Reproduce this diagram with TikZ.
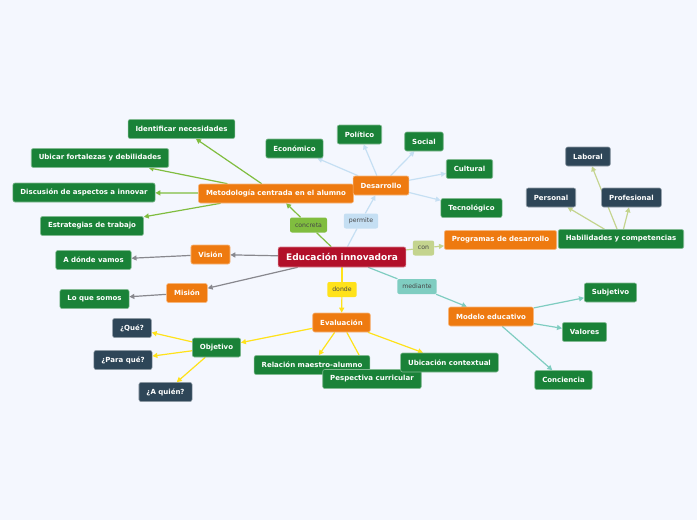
\documentclass[tikz,border=0pt]{standalone}
\usepackage{fontspec}
\setmainfont{DejaVu Sans}
\usetikzlibrary{arrows.meta,backgrounds}

\definecolor{bgcol}{RGB}{244,247,254}
\definecolor{rootred}{RGB}{178,16,42}
\definecolor{brorange}{RGB}{238,122,16}
\definecolor{topgreen}{RGB}{26,130,56}
\definecolor{leafdark}{RGB}{46,70,88}
\definecolor{lnkgray}{RGB}{136,136,142}
\definecolor{lnkgreen}{RGB}{128,189,63}
\definecolor{lnkblue}{RGB}{197,223,243}
\definecolor{lnkolive}{RGB}{196,212,142}
\definecolor{lnkyellow}{RGB}{255,226,26}
\definecolor{lnkteal}{RGB}{127,205,193}

\tikzset{
  box/.style={rounded corners=2pt, minimum height=19pt, inner xsep=7.5pt, inner ysep=1pt,
    text=white, font=\fontsize{7}{8}\selectfont\bfseries, line width=0.6pt},
  rootbox/.style={box, fill=rootred, draw=rootred!55!white, minimum height=20pt,
    inner xsep=8pt, font=\fontsize{9}{10}\selectfont\bfseries},
  branchbox/.style={box, fill=brorange, draw=brorange!55!white},
  topicbox/.style={box, fill=topgreen, draw=topgreen!55!white},
  leafbox/.style={box, fill=leafdark, draw=leafdark!55!white},
  tagbox/.style={rounded corners=2pt, minimum height=15pt, inner xsep=5pt, inner ysep=1pt,
    text=black!72, font=\fontsize{6.2}{7}\selectfont},
  link/.style={line width=1.2pt, -{Triangle[length=5pt,width=5pt]}},
  plain/.style={line width=1.2pt},
}

\begin{document}
\begin{tikzpicture}[x=1pt, y=-1pt]
\useasboundingbox (0,0) rectangle (697,520);

% centre
\node[rootbox] (root) at (342,257) {Educación innovadora};

% labels on the links
\node[tagbox, fill=lnkgreen] (concreta) at (308.5,225) {concreta};
\node[tagbox, fill=lnkblue] (permite) at (361,221) {permite};
\node[tagbox, fill=lnkolive] (con) at (423.5,248) {con};
\node[tagbox, fill=lnkyellow] (donde) at (342,289.5) {donde};
\node[tagbox, fill=lnkteal] (mediante) at (417,286.5) {mediante};

% metodologia
\node[branchbox] (metod) at (276,193.5) {Metodología centrada en el alumno};
\node[topicbox] (necesid) at (181.5,129) {Identificar necesidades};
\node[topicbox] (fortal) at (100,158) {Ubicar fortalezas y debilidades};
\node[topicbox] (discus) at (84,192.5) {Discusión de aspectos a innovar};
\node[topicbox] (estrat) at (92,226) {Estrategias de trabajo};

% vision y mision
\node[branchbox] (vision) at (210.5,254.5) {Visión};
\node[topicbox] (vamos) at (93.5,260) {A dónde vamos};
\node[branchbox] (mision) at (187,293) {Misión};
\node[topicbox] (somos) at (94.5,299) {Lo que somos};

% desarrollo
\node[branchbox] (desarr) at (381,185.5) {Desarrollo};
\node[topicbox] (econ) at (294.5,148.5) {Económico};
\node[topicbox] (polit) at (359.5,134.5) {Político};
\node[topicbox] (social) at (424,141.5) {Social};
\node[topicbox] (cultur) at (469.5,169) {Cultural};
\node[topicbox] (tecno) at (471.5,208) {Tecnológico};

% programas
\node[branchbox] (progr) at (500.5,240) {Programas de desarrollo};
\node[topicbox] (habil) at (621,239) {Habilidades y competencias};
\node[leafbox] (person) at (551,197.5) {Personal};
\node[leafbox] (profes) at (631.5,197.5) {Profesional};
\node[leafbox] (laboral) at (588,156.5) {Laboral};

% evaluacion
\node[branchbox] (evalua) at (341.5,322.5) {Evaluación};
\node[topicbox] (objet) at (216.5,347.5) {Objetivo};
\node[leafbox] (que) at (132,328) {¿Qué?};
\node[leafbox] (paraque) at (123,360) {¿Para qué?};
\node[leafbox] (quien) at (165.5,392) {¿A quién?};
\node[topicbox] (relac) at (312,365) {Relación maestro-alumno};
\node[topicbox] (pespec) at (372,379) {Pespectiva curricular};
\node[topicbox] (ubicac) at (449.5,362.5) {Ubicación contextual};

% modelo
\node[branchbox] (modelo) at (491,316.5) {Modelo educativo};
\node[topicbox] (subjet) at (610.5,292.5) {Subjetivo};
\node[topicbox] (valor) at (584.5,332) {Valores};
\node[topicbox] (concien) at (563.5,380) {Conciencia};

\begin{pgfonlayer}{background}
\fill[bgcol] (0,0) rectangle (697,520);

\draw[plain, lnkgreen] (root) -- (concreta);
\draw[link, lnkgreen] (concreta) -- (metod);
\foreach \n in {necesid, fortal, discus, estrat}
  \draw[link, lnkgreen] (metod) -- (\n);

\draw[link, lnkgray] (root) -- (vision);
\draw[link, lnkgray] (vision) -- (vamos);
\draw[link, lnkgray] (root) -- (mision);
\draw[link, lnkgray] (mision) -- (somos);

\draw[plain, lnkblue] (root) -- (permite);
\draw[link, lnkblue] (permite) -- (desarr);
\foreach \n in {econ, polit, social, cultur, tecno}
  \draw[link, lnkblue] (desarr) -- (\n);

\draw[plain, lnkolive] (root) -- (con);
\draw[link, lnkolive] (con) -- (progr);
\foreach \n in {person, profes, laboral}
  \draw[link, lnkolive] (habil) -- (\n);

\draw[plain, lnkyellow] (root) -- (donde);
\draw[link, lnkyellow] (donde) -- (evalua);
\foreach \n in {objet, relac, pespec, ubicac}
  \draw[link, lnkyellow] (evalua) -- (\n);
\foreach \n in {que, paraque, quien}
  \draw[link, lnkyellow] (objet) -- (\n);

\draw[plain, lnkteal] (root) -- (mediante);
\draw[link, lnkteal] (mediante) -- (modelo);
\foreach \n in {subjet, valor, concien}
  \draw[link, lnkteal] (modelo) -- (\n);
\end{pgfonlayer}
\end{tikzpicture}
\end{document}
